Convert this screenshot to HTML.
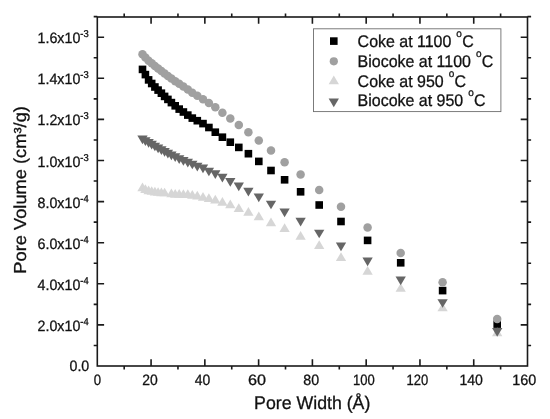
<!DOCTYPE html><html><head><meta charset="utf-8"><title>Pore Volume</title>
<style>html,body{margin:0;padding:0;background:#fff}svg{display:block}text{text-rendering:geometricPrecision;stroke:#111;stroke-width:0.3px;font-family:"Liberation Sans",sans-serif;fill:#111}</style></head><body>
<svg width="550" height="419" viewBox="0 0 550 419">
<rect width="550" height="419" fill="#fff"/>
<g>
<rect x="138.70" y="65.60" width="7.6" height="7.6" fill="#000"/>
<rect x="141.60" y="70.80" width="7.6" height="7.6" fill="#000"/>
<rect x="144.80" y="76.10" width="7.6" height="7.6" fill="#000"/>
<rect x="147.90" y="79.70" width="7.6" height="7.6" fill="#000"/>
<rect x="151.10" y="83.20" width="7.6" height="7.6" fill="#000"/>
<rect x="154.30" y="86.30" width="7.6" height="7.6" fill="#000"/>
<rect x="157.60" y="89.40" width="7.6" height="7.6" fill="#000"/>
<rect x="160.80" y="92.60" width="7.6" height="7.6" fill="#000"/>
<rect x="164.10" y="95.60" width="7.6" height="7.6" fill="#000"/>
<rect x="167.60" y="98.80" width="7.6" height="7.6" fill="#000"/>
<rect x="171.40" y="102.00" width="7.6" height="7.6" fill="#000"/>
<rect x="175.40" y="105.30" width="7.6" height="7.6" fill="#000"/>
<rect x="179.60" y="108.20" width="7.6" height="7.6" fill="#000"/>
<rect x="184.00" y="111.30" width="7.6" height="7.6" fill="#000"/>
<rect x="188.50" y="114.30" width="7.6" height="7.6" fill="#000"/>
<rect x="193.50" y="116.90" width="7.6" height="7.6" fill="#000"/>
<rect x="199.20" y="119.80" width="7.6" height="7.6" fill="#000"/>
<rect x="205.10" y="123.70" width="7.6" height="7.6" fill="#000"/>
<rect x="211.50" y="128.40" width="7.6" height="7.6" fill="#000"/>
<rect x="218.60" y="133.40" width="7.6" height="7.6" fill="#000"/>
<rect x="226.50" y="138.40" width="7.6" height="7.6" fill="#000"/>
<rect x="235.00" y="143.60" width="7.6" height="7.6" fill="#000"/>
<rect x="244.60" y="149.90" width="7.6" height="7.6" fill="#000"/>
<rect x="255.00" y="157.60" width="7.6" height="7.6" fill="#000"/>
<rect x="267.20" y="166.70" width="7.6" height="7.6" fill="#000"/>
<rect x="280.80" y="176.00" width="7.6" height="7.6" fill="#000"/>
<rect x="296.80" y="188.00" width="7.6" height="7.6" fill="#000"/>
<rect x="315.40" y="201.20" width="7.6" height="7.6" fill="#000"/>
<rect x="337.20" y="217.70" width="7.6" height="7.6" fill="#000"/>
<rect x="363.80" y="236.60" width="7.6" height="7.6" fill="#000"/>
<rect x="396.90" y="259.00" width="7.6" height="7.6" fill="#000"/>
<rect x="438.80" y="286.80" width="7.6" height="7.6" fill="#000"/>
<rect x="493.40" y="320.30" width="7.6" height="7.6" fill="#000"/>
</g><g>
<circle cx="142.50" cy="54.30" r="4.25" fill="#a0a0a0"/>
<circle cx="145.40" cy="57.60" r="4.25" fill="#a0a0a0"/>
<circle cx="148.60" cy="60.70" r="4.25" fill="#a0a0a0"/>
<circle cx="151.70" cy="63.30" r="4.25" fill="#a0a0a0"/>
<circle cx="154.90" cy="65.90" r="4.25" fill="#a0a0a0"/>
<circle cx="158.10" cy="68.40" r="4.25" fill="#a0a0a0"/>
<circle cx="161.40" cy="71.00" r="4.25" fill="#a0a0a0"/>
<circle cx="164.60" cy="73.50" r="4.25" fill="#a0a0a0"/>
<circle cx="167.90" cy="75.90" r="4.25" fill="#a0a0a0"/>
<circle cx="171.40" cy="78.40" r="4.25" fill="#a0a0a0"/>
<circle cx="175.20" cy="81.20" r="4.25" fill="#a0a0a0"/>
<circle cx="179.20" cy="83.80" r="4.25" fill="#a0a0a0"/>
<circle cx="183.40" cy="86.50" r="4.25" fill="#a0a0a0"/>
<circle cx="187.80" cy="89.60" r="4.25" fill="#a0a0a0"/>
<circle cx="192.30" cy="92.70" r="4.25" fill="#a0a0a0"/>
<circle cx="197.30" cy="95.80" r="4.25" fill="#a0a0a0"/>
<circle cx="203.00" cy="99.30" r="4.25" fill="#a0a0a0"/>
<circle cx="208.90" cy="102.90" r="4.25" fill="#a0a0a0"/>
<circle cx="215.30" cy="107.30" r="4.25" fill="#a0a0a0"/>
<circle cx="222.40" cy="112.70" r="4.25" fill="#a0a0a0"/>
<circle cx="230.30" cy="118.60" r="4.25" fill="#a0a0a0"/>
<circle cx="238.80" cy="125.10" r="4.25" fill="#a0a0a0"/>
<circle cx="248.40" cy="132.30" r="4.25" fill="#a0a0a0"/>
<circle cx="258.80" cy="140.50" r="4.25" fill="#a0a0a0"/>
<circle cx="271.00" cy="150.40" r="4.25" fill="#a0a0a0"/>
<circle cx="284.60" cy="162.30" r="4.25" fill="#a0a0a0"/>
<circle cx="300.60" cy="174.60" r="4.25" fill="#a0a0a0"/>
<circle cx="319.20" cy="190.00" r="4.25" fill="#a0a0a0"/>
<circle cx="341.00" cy="206.80" r="4.25" fill="#a0a0a0"/>
<circle cx="367.60" cy="227.60" r="4.25" fill="#a0a0a0"/>
<circle cx="400.70" cy="253.00" r="4.25" fill="#a0a0a0"/>
<circle cx="442.60" cy="282.20" r="4.25" fill="#a0a0a0"/>
<circle cx="497.20" cy="319.10" r="4.25" fill="#a0a0a0"/>
</g><g>
<polygon points="137.35,191.25 147.65,191.25 142.50,182.55" fill="#d6d6d6"/>
<polygon points="140.25,193.05 150.55,193.05 145.40,184.35" fill="#d6d6d6"/>
<polygon points="143.45,194.25 153.75,194.25 148.60,185.55" fill="#d6d6d6"/>
<polygon points="146.55,194.85 156.85,194.85 151.70,186.15" fill="#d6d6d6"/>
<polygon points="149.75,195.45 160.05,195.45 154.90,186.75" fill="#d6d6d6"/>
<polygon points="152.95,195.85 163.25,195.85 158.10,187.15" fill="#d6d6d6"/>
<polygon points="156.25,196.15 166.55,196.15 161.40,187.45" fill="#d6d6d6"/>
<polygon points="159.45,196.35 169.75,196.35 164.60,187.65" fill="#d6d6d6"/>
<polygon points="166.25,197.15 176.55,197.15 171.40,188.45" fill="#d6d6d6"/>
<polygon points="170.05,197.65 180.35,197.65 175.20,188.95" fill="#d6d6d6"/>
<polygon points="174.05,197.75 184.35,197.75 179.20,189.05" fill="#d6d6d6"/>
<polygon points="178.25,198.05 188.55,198.05 183.40,189.35" fill="#d6d6d6"/>
<polygon points="182.65,198.05 192.95,198.05 187.80,189.35" fill="#d6d6d6"/>
<polygon points="187.15,198.75 197.45,198.75 192.30,190.05" fill="#d6d6d6"/>
<polygon points="192.15,199.45 202.45,199.45 197.30,190.75" fill="#d6d6d6"/>
<polygon points="197.85,200.75 208.15,200.75 203.00,192.05" fill="#d6d6d6"/>
<polygon points="203.75,201.95 214.05,201.95 208.90,193.25" fill="#d6d6d6"/>
<polygon points="210.15,203.45 220.45,203.45 215.30,194.75" fill="#d6d6d6"/>
<polygon points="217.25,205.65 227.55,205.65 222.40,196.95" fill="#d6d6d6"/>
<polygon points="225.15,208.15 235.45,208.15 230.30,199.45" fill="#d6d6d6"/>
<polygon points="233.65,212.05 243.95,212.05 238.80,203.35" fill="#d6d6d6"/>
<polygon points="243.25,215.65 253.55,215.65 248.40,206.95" fill="#d6d6d6"/>
<polygon points="253.65,220.25 263.95,220.25 258.80,211.55" fill="#d6d6d6"/>
<polygon points="265.85,226.15 276.15,226.15 271.00,217.45" fill="#d6d6d6"/>
<polygon points="279.45,232.05 289.75,232.05 284.60,223.35" fill="#d6d6d6"/>
<polygon points="295.45,239.75 305.75,239.75 300.60,231.05" fill="#d6d6d6"/>
<polygon points="314.05,249.05 324.35,249.05 319.20,240.35" fill="#d6d6d6"/>
<polygon points="335.85,261.05 346.15,261.05 341.00,252.35" fill="#d6d6d6"/>
<polygon points="362.45,274.75 372.75,274.75 367.60,266.05" fill="#d6d6d6"/>
<polygon points="395.55,291.85 405.85,291.85 400.70,283.15" fill="#d6d6d6"/>
<polygon points="437.45,311.35 447.75,311.35 442.60,302.65" fill="#d6d6d6"/>
<polygon points="492.05,336.15 502.35,336.15 497.20,327.45" fill="#d6d6d6"/>
</g><g>
<polygon points="137.35,135.45 147.65,135.45 142.50,144.15" fill="#666"/>
<polygon points="140.25,137.25 150.55,137.25 145.40,145.95" fill="#666"/>
<polygon points="143.45,138.95 153.75,138.95 148.60,147.65" fill="#666"/>
<polygon points="146.55,140.85 156.85,140.85 151.70,149.55" fill="#666"/>
<polygon points="149.75,142.65 160.05,142.65 154.90,151.35" fill="#666"/>
<polygon points="152.95,144.55 163.25,144.55 158.10,153.25" fill="#666"/>
<polygon points="156.25,146.25 166.55,146.25 161.40,154.95" fill="#666"/>
<polygon points="159.45,148.05 169.75,148.05 164.60,156.75" fill="#666"/>
<polygon points="162.75,149.85 173.05,149.85 167.90,158.55" fill="#666"/>
<polygon points="166.25,151.45 176.55,151.45 171.40,160.15" fill="#666"/>
<polygon points="170.05,153.35 180.35,153.35 175.20,162.05" fill="#666"/>
<polygon points="174.05,155.25 184.35,155.25 179.20,163.95" fill="#666"/>
<polygon points="178.25,157.05 188.55,157.05 183.40,165.75" fill="#666"/>
<polygon points="182.65,158.85 192.95,158.85 187.80,167.55" fill="#666"/>
<polygon points="187.15,160.65 197.45,160.65 192.30,169.35" fill="#666"/>
<polygon points="192.15,162.75 202.45,162.75 197.30,171.45" fill="#666"/>
<polygon points="197.85,164.45 208.15,164.45 203.00,173.15" fill="#666"/>
<polygon points="203.75,167.65 214.05,167.65 208.90,176.35" fill="#666"/>
<polygon points="210.15,170.35 220.45,170.35 215.30,179.05" fill="#666"/>
<polygon points="217.25,173.75 227.55,173.75 222.40,182.45" fill="#666"/>
<polygon points="225.15,177.95 235.45,177.95 230.30,186.65" fill="#666"/>
<polygon points="233.65,182.45 243.95,182.45 238.80,191.15" fill="#666"/>
<polygon points="243.25,187.85 253.55,187.85 248.40,196.55" fill="#666"/>
<polygon points="253.65,193.45 263.95,193.45 258.80,202.15" fill="#666"/>
<polygon points="265.85,200.65 276.15,200.65 271.00,209.35" fill="#666"/>
<polygon points="279.45,208.55 289.75,208.55 284.60,217.25" fill="#666"/>
<polygon points="295.45,217.75 305.75,217.75 300.60,226.45" fill="#666"/>
<polygon points="314.05,229.65 324.35,229.65 319.20,238.35" fill="#666"/>
<polygon points="335.85,242.55 346.15,242.55 341.00,251.25" fill="#666"/>
<polygon points="362.45,257.45 372.75,257.45 367.60,266.15" fill="#666"/>
<polygon points="395.55,276.55 405.85,276.55 400.70,285.25" fill="#666"/>
<polygon points="437.45,299.15 447.75,299.15 442.60,307.85" fill="#666"/>
<polygon points="492.05,327.95 502.35,327.95 497.20,336.65" fill="#666"/>
</g>
<g stroke="#1a1a1a" stroke-width="1.6" fill="none" stroke-linecap="butt">
<rect x="97.3" y="17.0" width="430.2" height="349.0"/>
<path d="M124.19 366.0v3.6M124.19 17.0v-3.6"/>
<path d="M151.07 366.0v-6.8M151.07 17.0v6.8"/>
<path d="M177.96 366.0v3.6M177.96 17.0v-3.6"/>
<path d="M204.85 366.0v-6.8M204.85 17.0v6.8"/>
<path d="M231.74 366.0v3.6M231.74 17.0v-3.6"/>
<path d="M258.62 366.0v-6.8M258.62 17.0v6.8"/>
<path d="M285.51 366.0v3.6M285.51 17.0v-3.6"/>
<path d="M312.40 366.0v-6.8M312.40 17.0v6.8"/>
<path d="M339.29 366.0v3.6M339.29 17.0v-3.6"/>
<path d="M366.18 366.0v-6.8M366.18 17.0v6.8"/>
<path d="M393.06 366.0v3.6M393.06 17.0v-3.6"/>
<path d="M419.95 366.0v-6.8M419.95 17.0v6.8"/>
<path d="M446.84 366.0v3.6M446.84 17.0v-3.6"/>
<path d="M473.73 366.0v-6.8M473.73 17.0v6.8"/>
<path d="M500.61 366.0v3.6M500.61 17.0v-3.6"/>
<path d="M97.3 345.45h-3.6M527.5 345.45h3.6"/>
<path d="M97.3 324.90h6.8M527.5 324.90h-6.8"/>
<path d="M97.3 304.35h-3.6M527.5 304.35h3.6"/>
<path d="M97.3 283.80h6.8M527.5 283.80h-6.8"/>
<path d="M97.3 263.25h-3.6M527.5 263.25h3.6"/>
<path d="M97.3 242.70h6.8M527.5 242.70h-6.8"/>
<path d="M97.3 222.15h-3.6M527.5 222.15h3.6"/>
<path d="M97.3 201.60h6.8M527.5 201.60h-6.8"/>
<path d="M97.3 181.05h-3.6M527.5 181.05h3.6"/>
<path d="M97.3 160.50h6.8M527.5 160.50h-6.8"/>
<path d="M97.3 139.95h-3.6M527.5 139.95h3.6"/>
<path d="M97.3 119.40h6.8M527.5 119.40h-6.8"/>
<path d="M97.3 98.85h-3.6M527.5 98.85h3.6"/>
<path d="M97.3 78.30h6.8M527.5 78.30h-6.8"/>
<path d="M97.3 57.75h-3.6M527.5 57.75h3.6"/>
<path d="M97.3 37.20h6.8M527.5 37.20h-6.8"/>
<path d="M97.3 16.65h-3.6M527.5 16.65h3.6"/>
</g>
<text transform="translate(93.70,385.40) scale(0.88,1)" font-size="15.0" text-anchor="start" >0</text>
<text transform="translate(142.20,385.40) scale(0.93,1)" font-size="15.0" text-anchor="start" >20</text>
<text transform="translate(194.80,385.40) scale(0.93,1)" font-size="15.0" text-anchor="start" >40</text>
<text transform="translate(247.90,385.40) scale(1.08,1)" font-size="15.0" text-anchor="start" >60</text>
<text transform="translate(303.20,385.40) scale(0.95,1)" font-size="15.0" text-anchor="start" >80</text>
<text transform="translate(353.10,385.40) scale(0.87,1)" font-size="15.0" text-anchor="start" >100</text>
<text transform="translate(406.50,385.40) scale(0.87,1)" font-size="15.0" text-anchor="start" >120</text>
<text transform="translate(459.40,385.40) scale(0.94,1)" font-size="15.0" text-anchor="start" >140</text>
<text transform="translate(512.30,385.40) scale(0.96,1)" font-size="15.0" text-anchor="start" >160</text>
<text transform="translate(89.30,371.30) scale(0.95,1)" font-size="15.0" text-anchor="end" >0.0</text>
<text transform="translate(88.70,330.90) scale(0.95,1)" font-size="15.0" text-anchor="end" >2.0x10<tspan font-size="9.9" dy="-6.0">-4</tspan></text>
<text transform="translate(88.70,289.80) scale(0.95,1)" font-size="15.0" text-anchor="end" >4.0x10<tspan font-size="9.9" dy="-6.0">-4</tspan></text>
<text transform="translate(88.70,248.70) scale(0.95,1)" font-size="15.0" text-anchor="end" >6.0x10<tspan font-size="9.9" dy="-6.0">-4</tspan></text>
<text transform="translate(88.70,207.60) scale(0.95,1)" font-size="15.0" text-anchor="end" >8.0x10<tspan font-size="9.9" dy="-6.0">-4</tspan></text>
<text transform="translate(88.70,166.50) scale(0.95,1)" font-size="15.0" text-anchor="end" >1.0x10<tspan font-size="9.9" dy="-6.0">-3</tspan></text>
<text transform="translate(88.70,125.40) scale(0.95,1)" font-size="15.0" text-anchor="end" >1.2x10<tspan font-size="9.9" dy="-6.0">-3</tspan></text>
<text transform="translate(88.70,84.30) scale(0.95,1)" font-size="15.0" text-anchor="end" >1.4x10<tspan font-size="9.9" dy="-6.0">-3</tspan></text>
<text transform="translate(88.70,43.20) scale(0.95,1)" font-size="15.0" text-anchor="end" >1.6x10<tspan font-size="9.9" dy="-6.0">-3</tspan></text>
<text transform="translate(312.20,408.90) scale(0.975,1)" font-size="18.2" text-anchor="middle" >Pore Width (Å)</text>
<text transform="translate(25.9,189.9) rotate(-90) scale(1,0.95)" font-size="18.3" text-anchor="middle">Pore Volume (cm³/g)</text>
<rect x="313.5" y="28.8" width="187.4" height="82.8" fill="#fff" stroke="#6e6e6e" stroke-width="0.9"/>
<rect x="330.00" y="37.30" width="7.6" height="7.6" fill="#000"/>
<circle cx="333.8" cy="61.3" r="4.1" fill="#a0a0a0"/>
<polygon points="328.65,84.25 338.95,84.25 333.80,75.55" fill="#d6d6d6"/>
<polygon points="328.65,98.55 338.95,98.55 333.80,107.25" fill="#666"/>
<text transform="translate(357.60,46.70) scale(0.945,1)" font-size="16.9" text-anchor="start" xml:space="preserve">Coke at 1100 <tspan font-size="10.6" dx="0.6" dy="-9.9">o</tspan><tspan dy="9.9" dx="0.3">C</tspan></text>
<text transform="translate(357.60,66.60) scale(0.945,1)" font-size="16.9" text-anchor="start" xml:space="preserve">Biocoke at 1100 <tspan font-size="10.6" dx="0.6" dy="-9.9">o</tspan><tspan dy="9.9" dx="0.3">C</tspan></text>
<text transform="translate(357.60,86.60) scale(0.945,1)" font-size="16.9" text-anchor="start" xml:space="preserve">Coke at 950 <tspan font-size="10.6" dx="0.6" dy="-9.9">o</tspan><tspan dy="9.9" dx="0.3">C</tspan></text>
<text transform="translate(357.60,106.30) scale(0.945,1)" font-size="16.9" text-anchor="start" xml:space="preserve">Biocoke at 950 <tspan font-size="10.6" dx="0.6" dy="-9.9">o</tspan><tspan dy="9.9" dx="0.3">C</tspan></text>
</svg></body></html>
